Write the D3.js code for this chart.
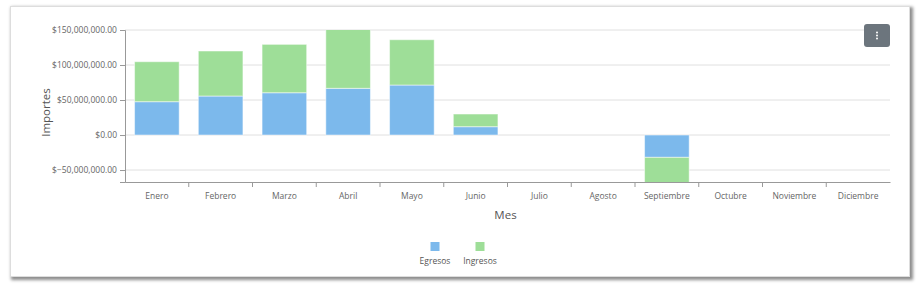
<!DOCTYPE html>
<html>
<head>
<meta charset="utf-8">
<script src="https://cdn.jsdelivr.net/npm/d3@7"></script>
<style>
  body { margin: 0; background: #fff; }
  .card { position: absolute; left: 10px; top: 6px; width: 898px; height: 269px;
          background: #fff; border: 1px solid #ddd; box-shadow: 2px 2px 3px 1px rgba(0,0,0,0.45); }
  svg { position: absolute; left: 0; top: 0; }
</style>
</head>
<body>
<div class="card"></div>
<div class="canvas"></div>
<script>
// data
const meses = ["Enero", "Febrero", "Marzo", "Abril", "Mayo", "Junio", "Julio", "Agosto", "Septiembre", "Octubre", "Noviembre", "Diciembre"];
const egresos = [47600000, 55700000, 60400000, 66700000, 71400000, 11900000, 0, 0, -31900000, 0, 0, 0];
const ingresos = [57100000, 64300000, 69100000, 84700000, 64700000, 18100000, 0, 0, -36000000, 0, 0, 0];
const yTicks = [-50000000, 0, 50000000, 100000000, 150000000];
const series = ["Egresos", "Ingresos"];
const colors = ["#7cb9ec", "#9ede98"];

const margin = {top: 30, bottom: 108, left: 125, right: 30};
const width = 920, height = 290;
const graphWidth = width - margin.left - margin.right;
const graphHeight = height - margin.top - margin.bottom;
const font = "'Open Sans', sans-serif";

const svg = d3.select('.canvas')
    .append('svg')
        .attr('width', width)
        .attr('height', height)
    .append('g')
        .attr('transform', `translate(${margin.left}, ${margin.top})`);

const x = d3.scaleBand()
    .domain(meses)
    .range([0, graphWidth])
    .paddingInner(0.3)
    .paddingOuter(0.15);

const y = d3.scaleLinear()
    .domain([-67100000, 150000000])
    .range([graphHeight, 0]);

const fmt = v => "$" + d3.format(",.2f")(v);

// gridlines
svg.append("g")
    .selectAll("line")
    .data(yTicks)
    .enter()
    .append("line")
        .attr("x1", 0)
        .attr("x2", graphWidth)
        .attr("y1", d => y(d))
        .attr("y2", d => y(d))
        .attr("stroke", "#e0e0e0")
        .attr("stroke-width", 1);

// stacked bars
const stacked = meses.map((m, i) => {
    const e = egresos[i], g = ingresos[i];
    return [
        {mes: m, s: 0, y0: 0, y1: e},
        {mes: m, s: 1, y0: e, y1: e + g}
    ];
}).flat();

svg.append("defs").append("clipPath").attr("id", "clip")
    .append("rect").attr("width", graphWidth).attr("height", graphHeight);

svg.append("g")
    .attr("clip-path", "url(#clip)")
    .selectAll("rect")
    .data(stacked.filter(d => d.y1 !== d.y0))
    .enter()
    .append("rect")
        .attr("x", d => x(d.mes))
        .attr("width", x.bandwidth())
        .attr("y", d => y(Math.max(d.y0, d.y1)))
        .attr("height", d => Math.abs(y(d.y0) - y(d.y1)))
        .attr("fill", d => colors[d.s])
        .attr("stroke", "#ffffff")
        .attr("stroke-opacity", 0.5)
        .attr("stroke-width", 1);

// y axis
const yAxis = svg.append("g")
    .call(d3.axisLeft(y).tickValues(yTicks).tickFormat(fmt).tickSize(5));
yAxis.select(".domain").attr("stroke", "#999");
yAxis.selectAll(".tick line").attr("stroke", "#999");
yAxis.selectAll("text")
    .style("font-family", font)
    .style("font-size", "8.5px")
    .attr("fill", "#666");

// x axis
const xAxis = svg.append("g")
    .attr("transform", `translate(0, ${graphHeight})`)
    .call(d3.axisBottom(x).tickSize(0).tickPadding(11));
xAxis.select(".domain").attr("stroke", "#999");
xAxis.selectAll("text")
    .style("font-family", font)
    .style("font-size", "8.5px")
    .attr("fill", "#666");

// x axis separators between bands
svg.append("g")
    .selectAll("line")
    .data(meses.slice(1))
    .enter()
    .append("line")
        .attr("x1", d => x(d) - x.step() * x.paddingInner() / 2)
        .attr("x2", d => x(d) - x.step() * x.paddingInner() / 2)
        .attr("y1", graphHeight)
        .attr("y2", graphHeight + 5)
        .attr("stroke", "#999");

// axis titles
svg.append("text")
    .attr("text-anchor", "middle")
    .attr("x", graphWidth / 2 - 2)
    .attr("y", graphHeight + 37)
    .text("Mes")
    .style("font-family", font)
    .style("font-size", "11.5px")
    .attr("fill", "#555");

svg.append("text")
    .attr("text-anchor", "middle")
    .attr("transform", `translate(${-75}, ${y(75000000) + 30}) rotate(-90)`)
    .text("Importes")
    .style("font-family", font)
    .style("font-size", "11.5px")
    .attr("fill", "#555");

// legend
const legend = svg.append("g")
    .selectAll("g")
    .data(series)
    .enter()
    .append("g")
        .attr("transform", (d, i) => `translate(${310 + i * 45}, ${graphHeight + 60})`);
legend.append("rect")
    .attr("x", -4.5)
    .attr("width", 9)
    .attr("height", 9)
    .attr("fill", (d, i) => colors[i]);
legend.append("text")
    .attr("text-anchor", "middle")
    .attr("y", 21.5)
    .text(d => d)
    .style("font-family", font)
    .style("font-size", "8.5px")
    .attr("fill", "#555");

// menu button
const btn = d3.select("svg").append("g").attr("transform", "translate(864, 24)");
btn.append("rect")
    .attr("width", 26)
    .attr("height", 23)
    .attr("rx", 3)
    .attr("fill", "#6c757d");
btn.selectAll("circle")
    .data([-3, 0, 3])
    .enter()
    .append("circle")
        .attr("cx", 13)
        .attr("cy", d => 11.5 + d)
        .attr("r", 1)
        .attr("fill", "#fff");
</script>
</body>
</html>
